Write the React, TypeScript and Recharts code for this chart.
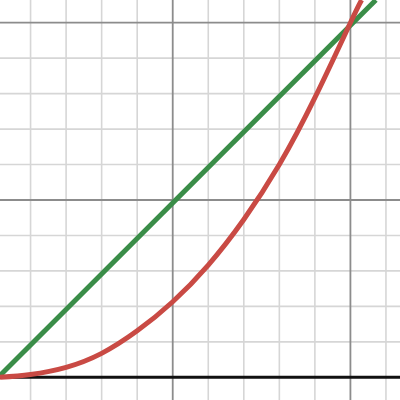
import React from 'react'
import { ComposedChart, Line, XAxis, YAxis, ReferenceLine } from 'recharts'

// visible window (graph units)
const X_DOMAIN: [number, number] = [0.028, 2.279]
const Y_DOMAIN: [number, number] = [-0.128, 2.128]

// grid lines
const MINOR_X = [0.2, 0.4, 0.6, 0.8, 1.2, 1.4, 1.6, 1.8, 2.2]
const MAJOR_X = [1, 2]
const MINOR_Y = [0.2, 0.4, 0.6, 0.8, 1.2, 1.4, 1.6, 1.8]
const MAJOR_Y = [1, 2]

// green straight line
const GREEN_X = [0.028, 2.143]
const GREEN_Y = [0.01, 2.128]

// red curve, read at each grid column
const RED_X = [0.028, 0.2, 0.4, 0.6, 0.8, 1.0, 1.2, 1.4, 1.6, 1.8, 2.0, 2.063]
const RED_Y = [0, 0.016, 0.056, 0.135, 0.262, 0.426, 0.633, 0.89, 1.2, 1.577, 2.0, 2.128]

const GREEN = '#3a8d48'
const RED = '#c94a44'

const greenData = GREEN_X.map((x, i) => ({ x, y: GREEN_Y[i] }))
const redData = RED_X.map((x, i) => ({ x, y: RED_Y[i] }))

export default function App() {
  return (
    <div style={{ position: 'absolute', left: 0, top: 0, width: 400, height: 400, background: '#fff' }}>
      <ComposedChart width={400} height={400} margin={{ top: 0, right: 0, bottom: 0, left: 0 }}>
        <XAxis type="number" dataKey="x" domain={X_DOMAIN} allowDataOverflow hide />
        <YAxis type="number" dataKey="y" domain={Y_DOMAIN} allowDataOverflow hide />
        {MINOR_X.map((v) => (
          <ReferenceLine key={'mx' + v} x={v} stroke="#d6d6d6" strokeWidth={1.6} />
        ))}
        {MINOR_Y.map((v) => (
          <ReferenceLine key={'my' + v} y={v} stroke="#d6d6d6" strokeWidth={1.6} />
        ))}
        {MAJOR_X.map((v) => (
          <ReferenceLine key={'Mx' + v} x={v} stroke="#8c8c8c" strokeWidth={1.8} />
        ))}
        {MAJOR_Y.map((v) => (
          <ReferenceLine key={'My' + v} y={v} stroke="#8c8c8c" strokeWidth={1.8} />
        ))}
        <ReferenceLine y={0} stroke="#111" strokeWidth={3} />
        <Line data={greenData} dataKey="y" type="linear" stroke={GREEN} strokeWidth={5}
          dot={false} activeDot={false} isAnimationActive={false} />
        <Line data={redData} dataKey="y" type="natural" stroke={RED} strokeWidth={5}
          dot={false} activeDot={false} isAnimationActive={false} />
      </ComposedChart>
    </div>
  )
}
